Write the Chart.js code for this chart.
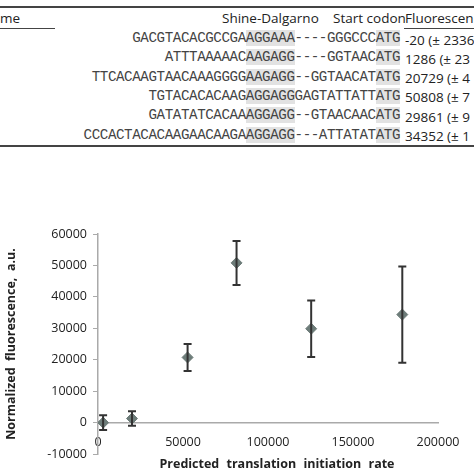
<!DOCTYPE html>
<html><head><meta charset="utf-8">
<script src="https://cdn.jsdelivr.net/npm/chart.js@4"></script>
<style>
body{margin:0;width:474px;height:474px;overflow:hidden;background:#fff;font-family:"Open Sans",sans-serif;position:relative}
#tbl{position:absolute;left:0;top:0;width:474px;height:150px;overflow:hidden}
.hl{position:absolute;left:0;width:474px;border-top:2px solid #444}
.hd{position:absolute;top:9px;font-size:13.5px;color:#222;white-space:nowrap}
.seq{position:absolute;right:74px;font-family:"Liberation Mono",monospace;font-size:14.2px;color:#444;white-space:pre;letter-spacing:-0.4px}
.seq span.s{background:#e2e2e2}
.fl{position:absolute;left:405px;font-size:13.5px;color:#222;white-space:nowrap}
#cv{position:absolute;left:0;top:150px}
#xt{position:absolute;left:0;width:474px;top:455px;text-align:center;padding-left:80px;box-sizing:border-box;font:bold 12.5px "Open Sans",sans-serif;color:#222;word-spacing:4px}
</style></head><body>
<div id="tbl">
  <div class="hl" style="top:6px"></div>
  <div class="hd" style="left:0">me</div>
  <div class="hl" style="top:28px;width:55px;border-top-width:1px"></div>
  <div class="hd" style="left:222px">Shine-Dalgarno</div>
  <div class="hd" style="left:333px">Start codon</div>
  <div class="hd" style="left:405px">Fluorescence</div>
  <div class="hl" style="top:28px;left:404px;width:70px;border-top-width:1px"></div>
  <div class="hl" style="top:145px"></div>
</div>
<canvas id="cv" width="474" height="324"></canvas>
<div id="xt">Predicted translation initiation rate</div>
<script>
// table rows: upstream, SD, spacer, start codon, fluorescence text
const upstream=["GACGTACACGCCGA","ATTTAAAAAC","TTCACAAGTAACAAAGGGG","TGTACACACAAG","GATATATCACAA","CCCACTACACAAGAACAAGA"];
const sdSeq=["AGGAAA","AAGAGG","AAGAGG","AGGAGG","AGGAGG","AGGAGG"];
const spacer=["----GGGCCC","----GGTAAC","--GGTAACAT","GAGTATTATT","--GTAACAAC","---ATTATAT"];
const startCodon=["ATG","ATG","ATG","ATG","ATG","ATG"];
const fluorText=["-20 (\u00b1 2336","1286 (\u00b1 23","20729 (\u00b1 4","50808 (\u00b1 7","29861 (\u00b1 9","34352 (\u00b1 1"];

// chart data
const predictedRate=[3000,20000,52700,81500,125400,179000];
const fluorescence=[-20,1286,20729,50808,29861,34352];
const fluorError=[2336,2300,4300,7000,9000,15300];

const tbl=document.getElementById('tbl');
upstream.forEach((u,i)=>{
  const top=30+i*19.3;
  const d=document.createElement('div');d.className='seq';d.style.top=top+'px';
  d.innerHTML=u+'<span class="s">'+sdSeq[i]+'</span>'+spacer[i]+'<span class="s">'+startCodon[i]+'</span>';
  tbl.appendChild(d);
  const f=document.createElement('div');f.className='fl';f.style.top=(top+0.5)+'px';f.textContent=fluorText[i];
  tbl.appendChild(f);
});

const errorBars={id:'errorBars',afterDatasetsDraw(chart){
  const ctx=chart.ctx,xs=chart.scales.x,ys=chart.scales.y;
  ctx.save();ctx.strokeStyle='#333';ctx.lineWidth=2;
  predictedRate.forEach((x,i)=>{
    const px=xs.getPixelForValue(x);
    const y1=ys.getPixelForValue(fluorescence[i]+fluorError[i]);
    const y2=ys.getPixelForValue(fluorescence[i]-fluorError[i]);
    ctx.beginPath();ctx.moveTo(px,y1);ctx.lineTo(px,y2);
    ctx.moveTo(px-4,y1);ctx.lineTo(px+4,y1);ctx.moveTo(px-4,y2);ctx.lineTo(px+4,y2);ctx.stroke();
  });
  ctx.restore();
}};

const plain=v=>String(v);
new Chart(document.getElementById('cv'),{
  type:'scatter',
  data:{datasets:[{data:predictedRate.map((x,i)=>({x:x,y:fluorescence[i]})),
    pointStyle:'rectRot',pointRadius:5.5,backgroundColor:'#6d7c79',borderColor:'#6d7c79'}]},
  options:{responsive:false,animation:false,
    layout:{padding:{top:84,right:36,bottom:20,left:0}},
    plugins:{legend:{display:false},tooltip:{enabled:false}},
    scales:{
      x:{type:'linear',min:0,max:200000,position:{y:0},
        ticks:{stepSize:50000,color:'#222',font:{family:'Open Sans',size:12.5},padding:4,maxRotation:0,callback:plain},
        grid:{display:false},border:{color:'#aaa',width:1.5}},
      y:{min:-10000,max:60000,
        ticks:{stepSize:10000,color:'#222',font:{family:'Open Sans',size:12.5},padding:6,callback:plain},
        grid:{drawOnChartArea:false,tickLength:5,color:'#aaa'},border:{color:'#aaa',width:1.5},
        title:{display:true,text:'Normalized  fluorescence,  a.u.',color:'#222',font:{family:'Open Sans',size:12.5,weight:'bold'}},
        afterFit(s){s.width=98;}}
    }},
  plugins:[errorBars]
});
</script>
</body></html>
